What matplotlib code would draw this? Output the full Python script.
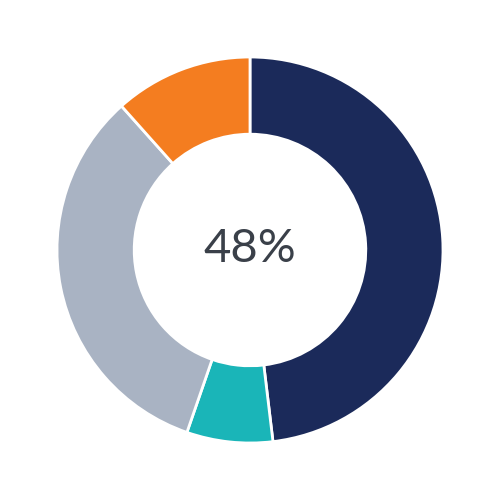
import matplotlib
matplotlib.use("Agg")
import matplotlib.pyplot as plt

labels = ["Navy", "Teal", "Gray", "Orange"]
values = [48.1, 7.2, 33.1, 11.6]
colors = ["#1b2a5a", "#1ab5b8", "#a9b3c3", "#f47d20"]
center_label = "48%"

fig = plt.figure(figsize=(5, 5), dpi=100)
ax = fig.add_axes([0, 0, 1, 1])
ax.pie(values, colors=colors, startangle=90, counterclock=False, radius=1.0,
       wedgeprops=dict(width=0.40, edgecolor="white", linewidth=2))
lim = 250 / 193
ax.set_xlim(-lim, lim)
ax.set_ylim(-lim, lim)
ax.set_aspect("equal")
ax.axis("off")
ax.text(0, 0.005, center_label, ha="center", va="center", fontsize=34,
        color="#3a4049", family=["Lato", "DejaVu Sans"], fontweight="normal")
fig.savefig("out.png", dpi=100, facecolor="white")
